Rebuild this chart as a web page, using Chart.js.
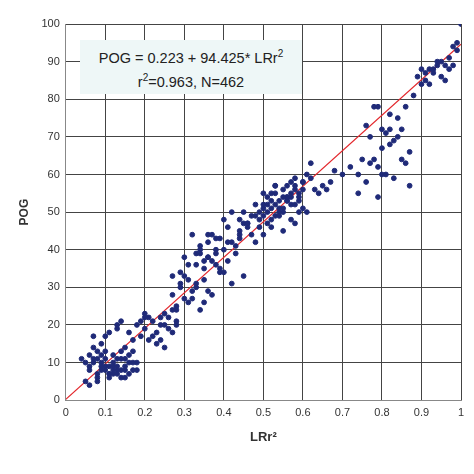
<!DOCTYPE html><html><head><script src="https://cdn.jsdelivr.net/npm/chart.js@4"></script>
<style>body{margin:0;background:#fff}#w{width:474px;height:474px;position:relative}
#box{position:absolute;left:80px;top:40px;width:222px;height:50px;background:#eef7f7;font-family:Arial,"Liberation Sans";font-size:14.5px;color:#222;text-align:center;line-height:20px;padding-top:4px}</style></head><body>
<div id="w"><canvas id="c" width="474" height="474"></canvas>
<div id="box">POG = 0.223 + 94.425* LRr<sup style="font-size:10px">2</sup><br>r<sup style="font-size:10px">2</sup>=0.963, N=462</div></div>
<script>
const xTicks=[0,0.1,0.2,0.3,0.4,0.5,0.6,0.7,0.8,0.9,1];
const yTicks=[0,10,20,30,40,50,60,70,80,90,100];
const fitLine=[[0,0.223],[1,94.648]];
const lowGroup=[[0.05,5],[0.06,8],[0.07,10],[0.08,6],[0.09,12],[0.1,9],[0.11,7],[0.12,10],[0.13,8],[0.14,11],[0.15,9],[0.16,7],[0.17,10],[0.18,8],
[0.06,4],[0.08,5],[0.1,8],[0.12,9],[0.14,6],[0.16,10],[0.07,11],[0.09,9],[0.11,7],[0.13,9],[0.15,11],[0.17,8],[0.1,13],[0.12,8],[0.14,8],
[0.05,10],[0.06,9],[0.08,11],[0.09,8],[0.11,6],[0.13,7],[0.15,8],[0.04,11],[0.07,14],[0.1,17],[0.12,12],[0.18,10],[0.16,12],[0.14,13],
[0.11,9],[0.08,7],[0.06,12],[0.09,10],[0.13,11],[0.1,11],[0.12,7],[0.15,6],[0.17,13],[0.08,13],[0.09,15],[0.11,18],[0.13,19],[0.07,17]];
const midLowGroup=[[0.15,14],[0.17,16],[0.19,17],[0.2,19],[0.21,22],[0.22,21],[0.23,18],[0.24,20],[0.25,23],[0.16,18],[0.18,20],[0.2,22],
[0.22,17],[0.24,16],[0.26,19],[0.27,24],[0.28,20],[0.2,23],[0.23,15],[0.25,14],[0.13,20],[0.14,21],[0.19,21],[0.21,16],[0.24,22],[0.27,18],[0.28,21]];
const midGroup=[[0.26,22],[0.27,28],[0.28,25],[0.29,30],[0.3,27],[0.31,32],[0.32,29],[0.33,31],[0.34,24],[0.35,26],[0.27,33],[0.29,34],
[0.31,36],[0.33,30],[0.35,35],[0.36,38],[0.37,37],[0.38,40],[0.3,38],[0.32,44],[0.34,41],[0.36,42],[0.25,20],[0.28,24],[0.3,33],
[0.32,27],[0.34,39],[0.33,36],[0.35,32],[0.37,28],[0.39,34],[0.31,26],[0.36,29],[0.38,43],[0.4,40],[0.41,37],[0.42,42],[0.37,44],
[0.39,43],[0.41,46],[0.43,41],[0.44,45],[0.45,47],[0.46,46],[0.4,48],[0.42,50],[0.44,48],[0.34,40],[0.36,38],[0.38,36],[0.4,34],
[0.42,31],[0.39,35],[0.41,42],[0.43,39],[0.45,33],[0.35,37],[0.33,39],[0.38,39],[0.36,44],[0.29,31]];
const upperGroup=[[0.44,44],[0.45,50],[0.46,47],[0.47,49],[0.48,52],[0.49,48],[0.5,51],[0.51,50],[0.52,53],[0.53,55],[0.47,44],[0.49,46],
[0.51,47],[0.53,52],[0.55,56],[0.48,49],[0.5,52],[0.52,48],[0.54,51],[0.56,54],[0.57,55],[0.58,57],[0.5,44],[0.52,46],[0.54,50],
[0.56,53],[0.58,56],[0.6,58],[0.55,45],[0.57,52],[0.59,55],[0.61,60],[0.53,57],[0.55,50],[0.57,48],[0.59,54],[0.6,58],[0.62,59],
[0.56,53],[0.58,47],[0.6,51],[0.54,49],[0.52,55],[0.5,49],[0.48,42],[0.46,47],[0.44,43],[0.56,54],[0.58,52],[0.61,50],[0.63,56],
[0.64,55],[0.65,57],[0.66,56],[0.67,58],[0.68,61],[0.7,60],[0.72,62],[0.62,63],[0.55,51],[0.57,54],[0.59,50],[0.51,54],[0.53,57],
[0.55,54],[0.57,58],[0.59,53],[0.6,56],[0.49,50],[0.51,52],[0.53,49],[0.56,57],[0.58,59],[0.54,53],[0.5,55],[0.52,51]];
const highGroup=[[0.74,55],[0.76,58],[0.77,63],[0.78,78],[0.79,78],[0.8,67],[0.81,71],[0.82,72],[0.83,69],[0.84,70],[0.85,72],[0.86,63],
[0.8,60],[0.78,64],[0.76,73],[0.8,72],[0.82,68],[0.84,75],[0.83,59],[0.79,62],[0.77,70],[0.75,64],[0.81,60],[0.85,64],[0.87,66],
[0.88,81],[0.86,78],[0.82,76],[0.79,54],[0.74,60],[0.87,57]];
const topGroup=[[0.89,86],[0.9,84],[0.91,85],[0.92,88],[0.93,87],[0.94,90],[0.95,86],[0.96,89],[0.97,88],[0.98,89],[0.99,93],[0.91,87],
[0.93,88],[0.95,90],[0.97,91],[0.98,94],[1.0,100],[0.92,84],[0.94,89],[0.9,88],[0.96,85],[0.99,95]];
const allPoints=[...lowGroup,...midLowGroup,...midGroup,...upperGroup,...highGroup,...topGroup];
new Chart(document.getElementById('c'),{type:'scatter',data:{datasets:[
{data:allPoints.map(p=>({x:p[0],y:p[1]})),backgroundColor:'#1f2a78',borderColor:'#1f2a78',pointRadius:2.4,pointStyle:'circle'},
{type:'line',data:fitLine.map(p=>({x:p[0],y:p[1]})),borderColor:'#e3262b',borderWidth:1.3,pointRadius:0}]},
options:{responsive:false,animation:false,layout:{padding:{left:13,right:13,top:24,bottom:25}},plugins:{legend:{display:false},tooltip:{enabled:false}},
scales:{x:{type:'linear',min:0,max:1,afterBuildTicks:a=>{a.ticks=xTicks.map(v=>({value:v}))},
grid:{color:'#444',borderDash:[3,3],drawTicks:false},border:{color:'#888'},ticks:{color:'#333',font:{family:'Arial',size:11},padding:6,callback:v=>String(v)},
title:{display:true,text:'LRr²',font:{family:'Arial',size:13,weight:'bold'},color:'#333'}},
y:{min:0,max:100,afterBuildTicks:a=>{a.ticks=yTicks.map(v=>({value:v}))},
grid:{color:'#444',borderDash:[3,3],drawTicks:false},border:{color:'#888'},ticks:{color:'#333',font:{family:'Arial',size:11},padding:6},
title:{display:true,text:'POG',font:{family:'Arial',size:12,weight:'bold'},color:'#333'}}}}});
</script></body></html>
